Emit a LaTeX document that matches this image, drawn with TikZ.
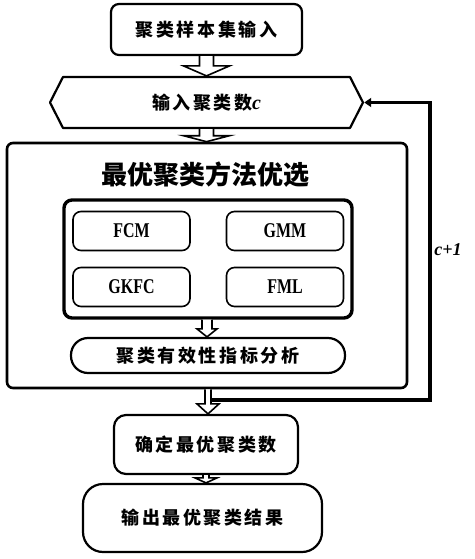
\documentclass[tikz,border=0pt]{standalone}
\usepackage{fontspec}
\setmainfont{Liberation Serif}
\newfontfamily\cjk[LetterSpace=14]{Noto Sans CJK SC}
\newfontfamily\cjktitle{Noto Sans CJK SC}
\newfontfamily\latin[FakeStretch=0.76]{Liberation Serif}
\usepackage{tikz}
\usetikzlibrary{arrows.meta}
\usetikzlibrary{shapes.symbols}
\usetikzlibrary{calc}

\tikzset{
  box/.style={draw,line width=2.2,rounded corners=8,inner sep=0,
    font=\cjk\bfseries\fontsize{18}{20}\selectfont},
  algo/.style={draw,line width=1.6,rounded corners=8,inner sep=0,
    minimum width=117,minimum height=39,font=\latin\fontsize{21}{23}\selectfont},
  fat/.style={draw,line width=1.6,fill=white,line join=miter},
  loopline/.style={draw,line width=3.5,-{Triangle[length=7,width=9]}}
}

% hollow block arrow: from, to, shaft half width, head half width, head length
\newcommand\fatarrow[5]{%
  \path[fat] let \p1=(#1), \p2=(#2) in
    (\x1-#3,\y1) -- (\x1-#3,\y2+#5) -- (\x1-#4,\y2+#5) -- (\x1,\y2)
    -- (\x1+#4,\y2+#5) -- (\x1+#3,\y2+#5) -- (\x1+#3,\y1);
}

\begin{document}
\begin{tikzpicture}[x=1pt,y=-1pt]
  \useasboundingbox (0,0) rectangle (474,559);

  \node[box,minimum width=191,minimum height=51] (inp) at (206.5,29.5) {聚类样本集输入};
  \node[box,draw,shape=signal,signal to=west and east,signal pointer angle=126,
    rounded corners=0,line join=round,minimum width=313,minimum height=51] (num) at (206.5,102.5)
    {输入聚类数{\rmfamily\bfseries\itshape\fontsize{20}{22}\selectfont c}};

  % outer block
  \node[box,line width=2.6,rounded corners=6,minimum width=400,minimum height=245] (outer) at (207,265.5) {};
  \node[font=\cjktitle\bfseries\fontsize{26}{28}\selectfont] (title) at (205,175) {最优聚类方法优选};
  \node[box,line width=3.4,minimum width=288,minimum height=118] (inner) at (208,259) {};

  \begin{scope}[every node/.style={algo}]
    \node (fcm) at (131.5,231) {\bfseries FCM};
    \node (gmm) at (285,231) {\bfseries GMM};
    \node (gkfc) at (131.5,287) {\bfseries GKFC};
    \node (fml) at (285,287) {\bfseries FML};
  \end{scope}

  \node[box,rounded corners=17,minimum width=274,minimum height=35] (valid) at (208,355.5) {聚类有效性指标分析};

  \node[box,rounded corners=12,minimum width=184,minimum height=59] (best) at (206,444.5) {确定最优聚类数};
  \node[box,rounded corners=20,minimum width=239,minimum height=68] (out) at (202.5,518) {输出最优聚类结果};

  % block arrows
  \fatarrow{inp.south}{num.north}{7pt}{23pt}{10pt}
  \fatarrow{num.south}{outer.north}{7pt}{23pt}{6pt}
  \fatarrow{$(inner.south)+(-1,0)$}{valid.north}{5pt}{10pt}{8pt}
  \fatarrow{$(outer.south)+(1,0)$}{best.north}{3pt}{11pt}{10pt}
  \fatarrow{$(best.south)+(0,0)$}{out.north}{3pt}{11pt}{5pt}

  % feedback loop
  \coordinate (fb) at (210,400);
  \draw[loopline] (fb) -- ++(220,0) |- (num.east);
  \node[font=\bfseries\itshape\fontsize{18}{20}\selectfont] (inc) at (448,250) {c+1};
\end{tikzpicture}
\end{document}
